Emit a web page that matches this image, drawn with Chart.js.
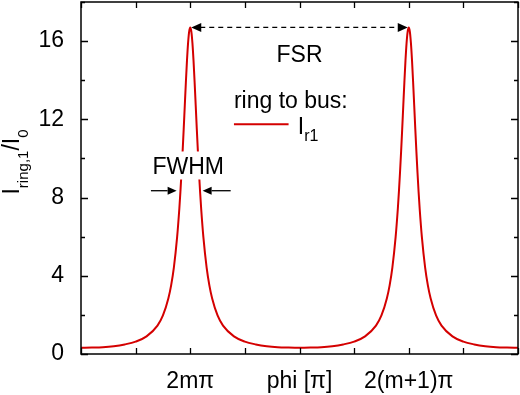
<!DOCTYPE html>
<html>
<head>
<meta charset="UTF-8">
<title>Ring to bus transmission</title>
<script src="https://cdn.jsdelivr.net/npm/chart.js"></script>
<style>
  body { margin: 0; background: #fff; }
  canvas { display: block; }
</style>
</head>
<body>
<canvas id="chart" width="520" height="395"></canvas>
<script>
// phase in units of pi, relative to 2m*pi
const phi = [-1, -0.9, -0.8, -0.7, -0.6, -0.5, -0.4, -0.3, -0.25, -0.2, -0.175, -0.15, -0.12, -0.1,
  -0.09, -0.08, -0.07, -0.06, -0.05, -0.04, -0.03, -0.02, -0.01, 0,
  0.01, 0.02, 0.03, 0.04, 0.05, 0.06, 0.07, 0.08, 0.09, 0.1, 0.12, 0.15, 0.175, 0.2, 0.25, 0.3,
  0.4, 0.5, 0.6, 0.7, 0.8, 0.9, 1,
  1.1, 1.2, 1.3, 1.4, 1.5, 1.6, 1.7, 1.75, 1.8, 1.825, 1.85, 1.88, 1.9,
  1.91, 1.92, 1.93, 1.94, 1.95, 1.96, 1.97, 1.98, 1.99, 2,
  2.01, 2.02, 2.03, 2.04, 2.05, 2.06, 2.07, 2.08, 2.09, 2.1, 2.12, 2.15, 2.175, 2.2, 2.25, 2.3,
  2.4, 2.5, 2.6, 2.7, 2.8, 2.9, 3];
const iRing = [0.32, 0.33, 0.35, 0.40, 0.49, 0.63, 0.90, 1.45, 1.97, 2.85, 3.51, 4.42, 5.99, 7.43,
  8.30, 9.28, 10.35, 11.50, 12.71, 13.90, 15.00, 15.90, 16.49, 16.70,
  16.49, 15.90, 15.00, 13.90, 12.71, 11.50, 10.35, 9.28, 8.30, 7.43, 5.99, 4.42, 3.51, 2.85, 1.97, 1.45,
  0.90, 0.63, 0.49, 0.40, 0.35, 0.33, 0.32,
  0.33, 0.35, 0.40, 0.49, 0.63, 0.90, 1.45, 1.97, 2.85, 3.51, 4.42, 5.99, 7.43,
  8.30, 9.28, 10.35, 11.50, 12.71, 13.90, 15.00, 15.90, 16.49, 16.70,
  16.49, 15.90, 15.00, 13.90, 12.71, 11.50, 10.35, 9.28, 8.30, 7.43, 5.99, 4.42, 3.51, 2.85, 1.97, 1.45,
  0.90, 0.63, 0.49, 0.40, 0.35, 0.33, 0.32];

const xTickValues = [0, 1, 2];
const xTickLabels = ['2mπ', 'phi [π]', '2(m+1)π'];
const yTickLabels = [0, 4, 8, 12, 16];

const FONT = '"Liberation Sans", Arial, sans-serif';
const RED = '#d40000';

function arrow(ctx, x1, y, x2, head) {
  // line from x1 to x2, filled head at x2
  const dir = Math.sign(x2 - x1);
  ctx.beginPath();
  ctx.moveTo(x1, y);
  ctx.lineTo(x2 - dir * head, y);
  ctx.stroke();
  ctx.beginPath();
  ctx.moveTo(x2, y);
  ctx.lineTo(x2 - dir * head, y - head * 0.45);
  ctx.lineTo(x2 - dir * head, y + head * 0.45);
  ctx.closePath();
  ctx.fill();
}

const decor = {
  id: 'decor',
  afterDatasetsDraw(chart) {
    const { ctx, scales: { x, y } } = chart;
    ctx.save();
    ctx.fillStyle = '#000';
    ctx.strokeStyle = '#000';

    // FWHM label with white box cutting the curve
    ctx.font = '23px ' + FONT;
    ctx.textAlign = 'center';
    ctx.textBaseline = 'alphabetic';
    const fx = x.getPixelForValue(0) - 2, fy = y.getPixelForValue(9.18);
    const fw = ctx.measureText('FWHM').width;
    ctx.fillStyle = '#fff';
    ctx.fillRect(fx - fw / 2 - 2, fy - 23, fw + 4, 28);
    ctx.fillStyle = '#000';
    ctx.fillText('FWHM', fx, fy);
    ctx.lineWidth = 1.3;
    const hy = y.getPixelForValue(8.35);
    arrow(ctx, x.getPixelForValue(-0.36), hy, x.getPixelForValue(-0.125), 9);
    arrow(ctx, x.getPixelForValue(0.37), hy, x.getPixelForValue(0.113), 9);

    // FSR dashed arrow
    const py = y.getPixelForValue(16.7);
    const x0 = x.getPixelForValue(0), x2 = x.getPixelForValue(2);
    ctx.setLineDash([5, 4]);
    ctx.lineWidth = 1.4;
    ctx.beginPath();
    ctx.moveTo(x0 + 10, py);
    ctx.lineTo(x2 - 10, py);
    ctx.stroke();
    ctx.setLineDash([]);
    arrow(ctx, x0 + 11, py, x0 + 1, 10);
    arrow(ctx, x2 - 11, py, x2 - 1, 10);
    ctx.fillText('FSR', x.getPixelForValue(1), y.getPixelForValue(14.95));

    // legend
    ctx.textAlign = 'left';
    ctx.fillText('ring to bus:', x.getPixelForValue(0.4), y.getPixelForValue(12.6));
    const ly = y.getPixelForValue(11.75);
    ctx.strokeStyle = RED;
    ctx.lineWidth = 2;
    ctx.beginPath();
    ctx.moveTo(x.getPixelForValue(0.4), ly);
    ctx.lineTo(x.getPixelForValue(0.9), ly);
    ctx.stroke();
    const ix = x.getPixelForValue(0.985), iy = y.getPixelForValue(11.23);
    ctx.fillText('I', ix, iy);
    const iw = ctx.measureText('I').width;
    ctx.font = '16px ' + FONT;
    ctx.fillText('r1', ix + iw, iy + 7);
    ctx.restore();
  },
  afterDraw(chart) {
    const { ctx, chartArea: a, scales: { x, y } } = chart;
    ctx.save();
    ctx.strokeStyle = '#000';
    ctx.lineWidth = 1.5;
    ctx.strokeRect(a.left, a.top, a.right - a.left, a.bottom - a.top);
    ctx.lineWidth = 1.3;
    ctx.beginPath();
    x.ticks.forEach(t => {
      const px = Math.round(x.getPixelForValue(t.value)) + 0.5;
      ctx.moveTo(px, a.bottom); ctx.lineTo(px, a.bottom - 6);
      ctx.moveTo(px, a.top); ctx.lineTo(px, a.top + 6);
    });
    y.ticks.forEach(t => {
      const py = Math.round(y.getPixelForValue(t.value)) + 0.5;
      const len = t.value % 4 === 0 ? 7 : 4;
      ctx.moveTo(a.left, py); ctx.lineTo(a.left + len, py);
      ctx.moveTo(a.right, py); ctx.lineTo(a.right - len, py);
    });
    ctx.stroke();

    // y title: I_ring,1 / I_0
    const parts = [['I', 23, 0], ['ring,1', 15, 9], ['/I', 23, 0], ['0', 15, 9]];
    let total = 0;
    parts.forEach(p => { ctx.font = p[1] + 'px ' + FONT; total += ctx.measureText(p[0]).width; });
    ctx.translate(19, (a.top + a.bottom) / 2 - 16);
    ctx.rotate(-Math.PI / 2);
    ctx.fillStyle = '#000';
    ctx.textAlign = 'left';
    ctx.textBaseline = 'alphabetic';
    let cx = -total / 2;
    parts.forEach(p => {
      ctx.font = p[1] + 'px ' + FONT;
      ctx.fillText(p[0], cx, p[2]);
      cx += ctx.measureText(p[0]).width;
    });
    ctx.restore();
  }
};

new Chart(document.getElementById('chart'), {
  type: 'line',
  data: {
    datasets: [{
      data: phi.map((v, i) => ({ x: v, y: iRing[i] })),
      borderColor: RED,
      borderWidth: 2,
      pointRadius: 0,
      cubicInterpolationMode: 'monotone',
      fill: false
    }]
  },
  options: {
    responsive: false,
    animation: false,
    devicePixelRatio: 1,
    layout: { padding: { top: 2, right: 2, left: 0, bottom: 0 } },
    plugins: { legend: { display: false }, tooltip: { enabled: false } },
    scales: {
      x: {
        type: 'linear', min: -1, max: 3,
        grid: { display: false },
        border: { display: false },
        ticks: {
          stepSize: 0.5, color: '#000', padding: 6, maxRotation: 0, autoSkip: false,
          font: { family: FONT, size: 23 },
          callback: v => { const k = xTickValues.indexOf(v); return k >= 0 ? xTickLabels[k] : ''; }
        },
        afterFit: s => { s.height = 41; s.paddingLeft = 0; s.paddingRight = 0; }
      },
      y: {
        min: 0, max: 18,
        grid: { display: false },
        border: { display: false },
        ticks: {
          stepSize: 2, color: '#000', padding: 9, autoSkip: false,
          font: { family: FONT, size: 23 },
          callback: v => yTickLabels.includes(v) ? String(v) : ''
        },
        afterFit: s => { s.width = 81; s.paddingTop = 0; s.paddingBottom = 0; }
      }
    }
  },
  plugins: [decor]
});
</script>
</body>
</html>
